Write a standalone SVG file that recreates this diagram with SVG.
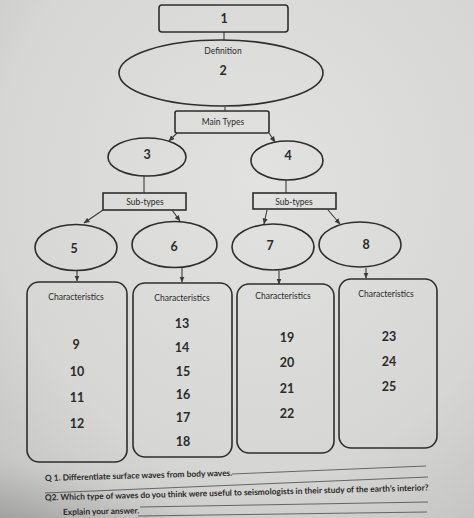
<svg xmlns="http://www.w3.org/2000/svg" width="474" height="518" viewBox="0 0 474 518">
<defs>
<style>
.s{fill:none;stroke:#2e2e2e;stroke-width:1.6}
.c{fill:none;stroke:#3a3a3a;stroke-width:1.1}
.n{font-family:Lato,"Open Sans","Liberation Sans",sans-serif;font-weight:700;font-size:12.5px;fill:#2b2b2b;text-anchor:middle;dominant-baseline:central}
.l{font-family:Lato,"Open Sans","Liberation Sans",sans-serif;font-size:8.5px;fill:#2b2b2b;text-anchor:middle;dominant-baseline:central}
.q{font-family:Lato,"Open Sans","Liberation Sans",sans-serif;font-weight:700;font-size:8.4px;fill:#2a2a2a}
.u{fill:none;stroke:#4a4a4a;stroke-width:0.8}
</style>
<marker id="a" markerWidth="6" markerHeight="6" refX="5.5" refY="3" orient="auto" markerUnits="userSpaceOnUse">
<path d="M0,0.5 L6,3 L0,5.5 z" fill="#3a3a3a"/>
</marker>
<radialGradient id="bg" cx="0.55" cy="0.35" r="0.8">
<stop offset="0" stop-color="#e2e2e0"/>
<stop offset="0.7" stop-color="#d6d6d4"/>
<stop offset="1" stop-color="#c4c4c2"/>
</radialGradient>
<radialGradient id="sh" cx="0" cy="1" r="1">
<stop offset="0" stop-color="#1e1e1e" stop-opacity="1"/>
<stop offset="0.45" stop-color="#4a4a4a" stop-opacity="0.7"/>
<stop offset="1" stop-color="#888" stop-opacity="0"/>
</radialGradient>
</defs>
<rect width="474" height="518" fill="url(#bg)"/>
<ellipse cx="0" cy="518" rx="280" ry="80" fill="url(#sh)"/>

<g id="connectors">
<line class="c" x1="224" y1="32" x2="224" y2="40"/>
<line class="c" x1="225" y1="107" x2="225" y2="111"/>
<line class="c" x1="177" y1="133" x2="169" y2="141" marker-end="url(#a)"/>
<line class="c" x1="269" y1="133" x2="275" y2="142" marker-end="url(#a)"/>
<line class="c" x1="144" y1="176" x2="144" y2="193"/>
<line class="c" x1="286" y1="180" x2="286" y2="193"/>
<line class="c" x1="103" y1="210" x2="84" y2="223" marker-end="url(#a)"/>
<line class="c" x1="172" y1="210" x2="180" y2="221" marker-end="url(#a)"/>
<line class="c" x1="267" y1="210" x2="264" y2="224" marker-end="url(#a)"/>
<line class="c" x1="328" y1="210" x2="340" y2="224" marker-end="url(#a)"/>
<line class="c" x1="77" y1="271" x2="77" y2="281" marker-end="url(#a)"/>
<line class="c" x1="182" y1="268" x2="182" y2="282" marker-end="url(#a)"/>
<line class="c" x1="279" y1="271" x2="279" y2="284" marker-end="url(#a)"/>
<line class="c" x1="366" y1="268" x2="366" y2="278" marker-end="url(#a)"/>
</g>

<g id="n1"><rect class="s" x="159" y="5" width="129" height="27" rx="3"/><text class="n" x="224" y="18.5">1</text></g>
<g id="n2"><ellipse class="s" cx="221" cy="73" rx="102" ry="33"/><text class="l" x="223" y="51">Definition</text><text class="n" x="223" y="70">2</text></g>
<g id="mainTypes"><rect class="s" x="175" y="111" width="94" height="22" rx="2"/><text class="l" x="223" y="121.5">Main Types</text></g>
<g id="n3"><ellipse class="s" cx="147" cy="157" rx="39" ry="19"/><text class="n" x="147" y="154">3</text></g>
<g id="n4"><ellipse class="s" cx="287" cy="160.5" rx="36" ry="19.5"/><text class="n" x="288" y="155">4</text></g>
<g id="sub1"><rect class="s" x="103" y="193" width="83" height="17"/><text class="l" x="145" y="201.5">Sub-types</text></g>
<g id="sub2"><rect class="s" x="253" y="193" width="83" height="16"/><text class="l" x="294" y="201.5">Sub-types</text></g>
<g id="n5"><ellipse class="s" cx="76" cy="247.5" rx="41" ry="23"/><text class="n" x="74" y="248">5</text></g>
<g id="n6"><ellipse class="s" cx="174.5" cy="244.5" rx="42.5" ry="23"/><text class="n" x="174" y="246">6</text></g>
<g id="n7"><ellipse class="s" cx="273" cy="247" rx="41" ry="23"/><text class="n" x="270" y="245">7</text></g>
<g id="n8"><ellipse class="s" cx="360" cy="244.5" rx="41" ry="22.5"/><text class="n" x="366" y="244">8</text></g>

<g id="c5"><rect class="s" x="27" y="282" width="100" height="180" rx="12"/>
<text class="l" x="76" y="297">Characteristics</text>
<text class="n" x="76" y="344">9</text><text class="n" x="77" y="371">10</text><text class="n" x="77" y="397">11</text><text class="n" x="77" y="423">12</text></g>
<g id="c6"><rect class="s" x="133" y="283" width="99" height="174" rx="12"/>
<text class="l" x="182" y="297.5">Characteristics</text>
<text class="n" x="182" y="323">13</text><text class="n" x="182" y="347">14</text><text class="n" x="183" y="371">15</text><text class="n" x="183" y="394">16</text><text class="n" x="183" y="417">17</text><text class="n" x="183" y="441">18</text></g>
<g id="c7"><rect class="s" x="237" y="284" width="97" height="169" rx="12"/>
<text class="l" x="283" y="295.5">Characteristics</text>
<text class="n" x="287" y="337">19</text><text class="n" x="287" y="362">20</text><text class="n" x="287" y="388">21</text><text class="n" x="287" y="413">22</text></g>
<g id="c8"><rect class="s" x="339" y="279" width="98" height="169" rx="12"/>
<text class="l" x="386" y="294">Characteristics</text>
<text class="n" x="389" y="336">23</text><text class="n" x="389" y="361">24</text><text class="n" x="389" y="386">25</text></g>

<g id="questions">
<text class="q" transform="translate(45,481) rotate(-1.6)">Q 1. Differentiate surface waves from body waves.</text>
<line class="u" x1="232" y1="474" x2="426" y2="466"/>
<line class="u" x1="45" y1="493" x2="428" y2="477"/>
<text class="q" transform="translate(45,500.5) rotate(-1.5)">Q2. Which type of waves do you think were useful to seismologists in their study of the earth’s interior?</text>
<line class="u" x1="140" y1="507" x2="428" y2="502"/>
<text class="q" transform="translate(63,515) rotate(-1.2)">Explain your answer.</text>
<line class="u" x1="138" y1="516" x2="427" y2="512"/>
</g>
</svg>
